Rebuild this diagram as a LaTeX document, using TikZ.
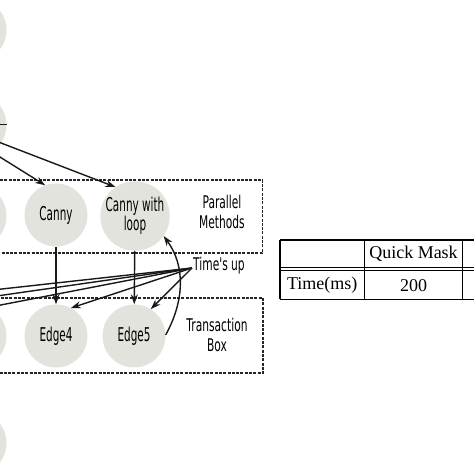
\documentclass[tikz,border=0pt]{standalone}
\usepackage{fontspec}
\usetikzlibrary{arrows.meta}
\newfontfamily\labfont[FakeStretch=0.55]{DejaVu Sans}
\newfontfamily\sidefont[FakeStretch=0.61]{DejaVu Sans}
\newfontfamily\tabfont{Liberation Serif}
\definecolor{circfill}{RGB}{227,227,222}
\tikzset{
  blob/.style={circle, fill=circfill, minimum size=63pt, inner sep=0pt, align=center,
               font=\labfont\fontsize{19}{19}\selectfont},
  sidelabel/.style={align=center, inner sep=0pt, font=\sidefont\fontsize{17.5}{20}\selectfont},
  dashbox/.style={draw=black!85, line width=1.4pt, dash pattern=on 3pt off 1.3pt},
  conn/.style={draw=black!90, line width=1.4pt},
  arr/.style={conn, -{Stealth[length=10pt,width=7pt]}},
  cell/.style={inner sep=0pt, font=\tabfont\fontsize{18}{20}\selectfont},
}
\begin{document}
\begin{tikzpicture}[x=1pt,y=-1pt]
\clip (0,0) rectangle (474,474);
\fill[white] (0,0) rectangle (474,474);
% dashed boxes
\draw[dashbox] (-20,180) rectangle (262.5,253);
\draw[dashbox] (-20,298) rectangle (263,373);
% partial circles at the left edge
\node[blob] (p1) at (-25,30) {};
\node[blob] (p2) at (-25,125) {};
\node[blob] (p3) at (-25,216) {};
\node[blob] (p4) at (-25,336) {};
\node[blob] (p5) at (-25,443) {};
% main circles
\node[blob] (c) at (56,215) {Canny};
\node[blob] (cl) at (135,216) {Canny with\\loop};
\node[blob] (e4) at (56,336) {Edge4};
\node[blob] (e5) at (134,336) {Edge5};
% side labels
\node[sidelabel] (pm) at (222,212) {Parallel\\Methods};
\node[sidelabel] (tb) at (217,335) {Transaction\\Box};
\node[sidelabel, anchor=west] (tu) at (193,265.5) {Time's up};
\coordinate (t) at (192,268);
% free ends
\coordinate (s0) at (-20,124.3);
\coordinate (s1) at (-20,144.6);
\coordinate (s2) at (-20,134.9);
\coordinate (l1) at (-20,291.4);
\coordinate (l2) at (-20,298.4);
\coordinate (l3) at (-20,309.0);
% connectors
\draw[conn] (s0) -- (p2.east |- s0);
\draw[arr] (s1) -- (c.110);
\draw[arr] (s2) -- (cl.124);
\draw[arr] (c) -- (e4);
\draw[arr] (cl) -- (e5);
\draw[arr] (e5.2) .. controls (185,300) and (185,265) .. (cl.-35);
\draw[conn] (t) -- (l1);
\draw[conn] (t) -- (l2);
\draw[conn] (t) -- (l3);
\draw[arr] (t) -- (e4.62);
\draw[arr] (t) -- (e5.58);
% table
\draw[line width=1.5pt] (280,240) -- (490,240);
\draw[line width=1.2pt] (280,267.4) -- (490,267.4);
\draw[line width=1.2pt] (280,270.8) -- (490,270.8);
\draw[line width=1.5pt] (280,299.3) -- (490,299.3);
\draw[line width=1.5pt] (280,240) -- (280,299.3);
\draw[line width=1.2pt] (364.3,240) -- (364.3,299.3);
\draw[line width=1.2pt] (462.8,240) -- (462.8,299.3);
\node[cell] (qm) at (413.5,254) {Quick Mask};
\node[cell] (tm) at (322.2,285.5) {Time(ms)};
\node[cell] (v1) at (413.5,285.5) {200};
\end{tikzpicture}
\end{document}
